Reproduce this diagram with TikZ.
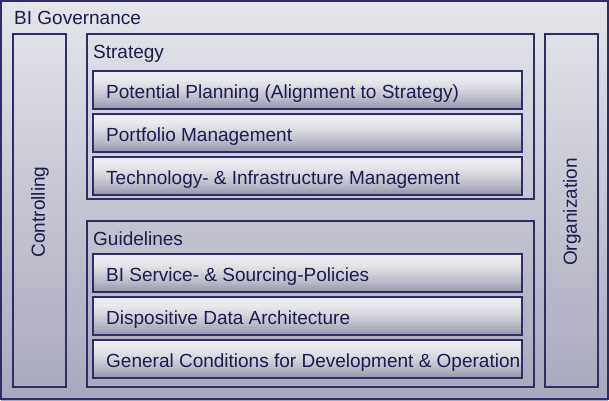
\documentclass[tikz,border=0pt]{standalone}
\usepackage{fontspec}
\setmainfont{Liberation Sans}
\definecolor{navy}{HTML}{2E2E66}
\definecolor{txt}{HTML}{1C1C4E}
\definecolor{bgtop}{HTML}{E4E4EA}
\definecolor{bgbot}{HTML}{A8A8BC}
\definecolor{bartop}{HTML}{EEEEF2}
\definecolor{barbot}{HTML}{9A9AAE}
\newcommand\gradbar[1]{%
  \foreach \i in {0,...,18}{%
    \pgfmathsetmacro\p{100*(\i/18)^1.6}%
    \fill[barbot!\p!bartop] (93,#1+\i*2) rectangle (522,#1+\i*2+2.3);
  }%
  \draw[bar] (93,#1) rectangle (522,#1+38);
}
\begin{document}
\begin{tikzpicture}[x=1pt,y=-1pt,
  frame/.style={draw=navy,line width=1.3pt},
  bar/.style={draw=navy,line width=1.3pt},
  lbl/.style={font=\fontsize{19}{22}\selectfont,text=txt,anchor=base west,inner sep=0pt},
  hdr/.style={font=\fontsize{19}{22}\selectfont,text=txt,anchor=base west,inner sep=0pt}]
\useasboundingbox (0,0) rectangle (609,400);
\foreach \i in {0,...,79}{%
  \pgfmathsetmacro\p{100*\i/79}%
  \fill[bgbot!\p!bgtop] (1,1+\i*5) rectangle (608,1+\i*5+5.3);
}
\draw[frame] (1,1) rectangle (608,399);
\node[hdr] (title) at (14,24) {BI Governance};
% side columns
\draw[frame] (13,34) rectangle (66,387);
\node[font=\fontsize{19}{22}\selectfont,text=txt,rotate=90,inner sep=0pt] (ctrl) at (40,212) {Controlling};
\draw[frame] (545,34) rectangle (598,387);
\node[font=\fontsize{19}{22}\selectfont,text=txt,rotate=90,inner sep=0pt] (org) at (572,212) {Organization};
% strategy
\draw[frame] (87,34) rectangle (534,199);
\node[hdr] (strat) at (93,58) {Strategy};
\gradbar{71}
\node[lbl] (s1) at (106,98) {Potential Planning (Alignment to Strategy)};
\gradbar{114}
\node[lbl] (s2) at (106,141) {Portfolio Management};
\gradbar{157}
\node[lbl] (s3) at (106,184) {Technology- \& Infrastructure Management};
% guidelines
\draw[frame] (87,221) rectangle (534,387);
\node[hdr] (guide) at (93,245) {Guidelines};
\gradbar{254}
\node[lbl] (g1) at (106,281) {BI Service- \& Sourcing-Policies};
\gradbar{297}
\node[lbl] (g2) at (106,324) {Dispositive Data Architecture};
\gradbar{340}
\node[lbl] (g3) at (106,367) {General Conditions for Development \& Operation};
\end{tikzpicture}
\end{document}
